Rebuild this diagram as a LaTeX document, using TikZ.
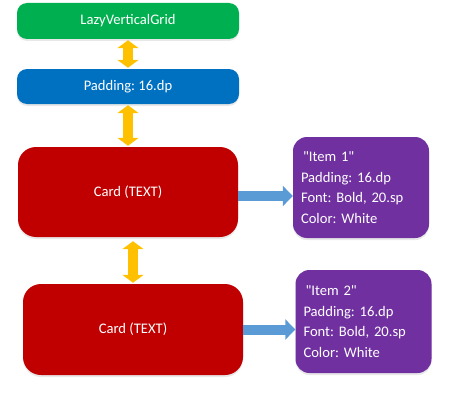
\documentclass[tikz,border=0pt]{standalone}
\usepackage{fontspec}
\setmainfont{Carlito}[Ligatures=TeXOff]
\usetikzlibrary{arrows.meta,shadows}
\definecolor{gridgreen}{HTML}{00B050}
\definecolor{padblue}{HTML}{0070C0}
\definecolor{cardred}{HTML}{C00000}
\definecolor{itempurple}{HTML}{7030A0}
\definecolor{swapgold}{HTML}{FFC000}
\definecolor{linkblue}{HTML}{5A9BD5}
\frenchspacing
\begin{document}
\begin{tikzpicture}[x=1pt, y=1pt,
  box/.style={text=white, inner sep=0pt, font=\fontsize{14.6}{20.5}\selectfont,
    drop shadow={opacity=0.18, shadow xshift=0pt, shadow yshift=-2pt}},
  lazybox/.style={box, minimum width=222pt, minimum height=36pt, rounded corners=10pt},
  cardbox/.style={box, fill=cardred, minimum width=220pt, minimum height=90pt, rounded corners=18pt},
  itembox/.style={box, fill=itempurple, inner xsep=8pt, text width=120pt, minimum height=101pt, align=left, rounded corners=14pt},
  swaparrow/.style={draw=swapgold, line width=10pt, {Triangle[width=21pt, length=8pt]}-{Triangle[width=21pt, length=8pt]}, shorten <=1pt, shorten >=1pt},
  linkarrow/.style={draw=linkblue, line width=10pt, -{Triangle[width=20pt, length=10pt]}}]
  \useasboundingbox (0, 0) rectangle (474, 400);

  \node [lazybox, fill=gridgreen] (grid) at (128, 379) {LazyVerticalGrid};
  \node [lazybox, fill=padblue, minimum height=35pt] (pad) at (128, 313.5) {Padding: 16.dp};
  \node [cardbox] (card1) at (128, 208) {Card (TEXT)};
  \node [cardbox, minimum height=91pt] (card2) at (133, 70.5) {Card (TEXT)};
  \node [itembox] (item1) at (361, 212.5)
    {\hspace{2pt}"Item 1"\\ Padding: 16.dp\\ Font: Bold, 20.sp\\ Color: White};
  \node [itembox, minimum height=103pt] (item2) at (363.5, 78.5)
    {\hspace{2pt}"Item 2"\\ Padding: 16.dp\\ Font: Bold, 20.sp\\ Color: White};

  \draw [swaparrow] (grid.south) -- (pad.north);
  \draw [swaparrow] (pad.south) -- (card1.north);
  \draw [swaparrow, shorten <=4pt] (card2.north |- card1.south) -- (card2.north);

  \draw [linkarrow] ([yshift=-4pt]card1.east) -- ([yshift=-4pt]card1.east -| item1.west);
  \draw [linkarrow] (card2.east) -- (card2.east -| item2.west);
\end{tikzpicture}
\end{document}
